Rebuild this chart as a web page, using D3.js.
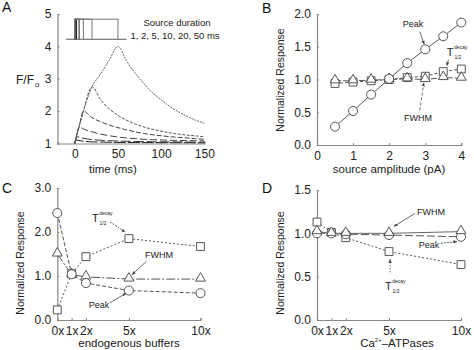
<!DOCTYPE html>
<html>
<head>
<meta charset="utf-8">
<script src="https://cdn.jsdelivr.net/npm/d3@7"></script>
<style>
  body { margin: 0; background: #fff; }
  svg { font-family: "Liberation Sans", Arial, Helvetica, sans-serif; }
</style>
</head>
<body>
<div id="chart"></div>
<script>
// ---- data ----
// panel A: fluorescence transients for different source durations
var timesA = [0, 1, 2, 5, 10, 20, 30, 40, 50, 60, 70, 80, 90, 100, 110, 120, 130, 140, 150];
var durationsA = [1, 2, 5, 10, 20, 50];
var ff1  = [1, 1.11, 1.10, 1.09, 1.07, 1.05, 1.045, 1.04, 1.035, 1.033, 1.03, 1.03, 1.028, 1.027, 1.026, 1.025, 1.024, 1.022, 1.02];
var ff2  = [1, 1.11, 1.22, 1.19, 1.16, 1.12, 1.10, 1.085, 1.075, 1.068, 1.062, 1.058, 1.055, 1.052, 1.05, 1.048, 1.046, 1.044, 1.042];
var ff5  = [1, 1.11, 1.22, 1.52, 1.45, 1.36, 1.29, 1.24, 1.20, 1.17, 1.15, 1.13, 1.12, 1.11, 1.10, 1.095, 1.09, 1.085, 1.08];
var ff10 = [1, 1.11, 1.22, 1.52, 2.0, 1.80, 1.67, 1.57, 1.49, 1.42, 1.36, 1.31, 1.27, 1.24, 1.21, 1.19, 1.17, 1.15, 1.13];
var ff20 = [1, 1.11, 1.22, 1.52, 2.0, 2.75, 2.35, 2.07, 1.87, 1.72, 1.60, 1.51, 1.44, 1.38, 1.33, 1.29, 1.26, 1.235, 1.21];
var ff50 = [1, 1.11, 1.22, 1.52, 2.0, 2.75, 3.15, 3.58, 4.0, 3.55, 3.17, 2.85, 2.57, 2.35, 2.15, 1.98, 1.84, 1.72, 1.63];
var xTicksA = [0, 50, 100, 150];
var yTicksA = [1, 2, 3, 4, 5];

// panel B: vs source amplitude
var ampB = [0.5, 1, 1.5, 2, 2.5, 3, 3.5, 4];
var peakB = [0.28, 0.52, 0.77, 1.01, 1.25, 1.46, 1.66, 1.87];
var decayB = [0.94, 0.96, 0.98, 1.0, 1.03, 1.05, 1.12, 1.16];
var fwhmB = [0.98, 0.98, 0.99, 1.0, 1.01, 1.0, 1.03, 1.02];
var xTicksB = [0, 1, 2, 3, 4];
var yTicksB = [0, 0.5, 1, 1.5, 2];

// panel C: vs endogenous buffers
var bufC = [0, 1, 2, 5, 10];
var peakC = [2.43, 1.04, 0.84, 0.67, 0.61];
var fwhmC = [1.50, 1.03, 0.98, 0.93, 0.93];
var decayC = [0.23, 1.05, 1.44, 1.85, 1.67];
var yTicksC = [0, 1, 2, 3];

// panel D: vs Ca-ATPases
var atpD = [0, 1, 2, 5, 10];
var peakD = [1.0, 1.0, 0.99, 0.98, 0.96];
var fwhmD = [1.02, 1.0, 1.0, 1.0, 1.02];
var decayD = [1.13, 1.01, 0.95, 0.79, 0.64];
var yTicksD = [0, 0.5, 1, 1.5];

var multTicks = [0, 1, 2, 5, 10];
var multLabels = ["0x", "1x", "2x", "5x", "10x"];

var width = 474, height = 350;
var axisColor = "#888";

var svg = d3.select("#chart").append("svg")
  .attr("width", width)
  .attr("height", height);

svg.append("rect").attr("width", width).attr("height", height).attr("fill", "#fff");

var defs = svg.append("defs");
defs.append("marker")
  .attr("id", "arrow")
  .attr("viewBox", "0 0 10 10")
  .attr("refX", 9).attr("refY", 5)
  .attr("markerWidth", 5).attr("markerHeight", 5)
  .attr("orient", "auto")
  .append("path")
  .attr("d", "M0,1 L10,5 L0,9 Z")
  .attr("fill", "#444");

// draws a left + bottom axis pair in the plain style of the figure
function drawAxes(g, x, y, xTicks, yTicks, xFmt, yFmt) {
  var ya = g.append("g")
    .attr("transform", "translate(" + x.range()[0] + ",0)")
    .call(d3.axisLeft(y).tickValues(yTicks).tickSize(-2).tickPadding(6).tickFormat(yFmt));
  var xa = g.append("g")
    .attr("transform", "translate(0," + y.range()[0] + ")")
    .call(d3.axisBottom(x).tickValues(xTicks).tickSize(-2).tickPadding(6).tickFormat(xFmt));
  [ya, xa].forEach(function(a) {
    a.select(".domain").attr("stroke", axisColor).attr("stroke-width", 1.2);
    a.selectAll(".tick line").attr("stroke", axisColor);
    a.selectAll(".tick text").attr("fill", "#222").style("font-size", "12px").style("font-family", "inherit");
  });
}

function seriesLine(g, x, y, xs, ys, dash, color) {
  var line = d3.line()
    .x(function(d, i) { return x(xs[i]); })
    .y(function(d) { return y(d); });
  g.append("path")
    .datum(ys)
    .attr("d", line)
    .attr("fill", "none")
    .attr("stroke", color || "#555")
    .attr("stroke-width", 1)
    .attr("stroke-dasharray", dash);
}

function markers(g, x, y, xs, ys, kind) {
  var sym = d3.symbol()
    .type(kind == "circle" ? d3.symbolCircle : kind == "square" ? d3.symbolSquare : d3.symbolTriangle)
    .size(kind == "circle" ? 64 : kind == "square" ? 62 : 42);
  g.selectAll(".m-" + kind)
    .data(ys)
    .enter()
    .append("path")
    .attr("class", "m-" + kind)
    .attr("d", sym)
    .attr("transform", function(d, i) {
      var dy = kind == "triangle" ? -0.8 : 0;
      return "translate(" + x(xs[i]) + "," + (y(d) + dy) + ")";
    })
    .attr("fill", "#fff")
    .attr("stroke", "#444")
    .attr("stroke-width", 0.9);
}

function arrow(g, x, y, a, dash) {
  g.append("line")
    .attr("x1", x(a[0])).attr("y1", y(a[1]))
    .attr("x2", x(a[2])).attr("y2", y(a[3]))
    .attr("stroke", "#444")
    .attr("stroke-width", 0.8)
    .attr("stroke-dasharray", dash || null)
    .attr("marker-end", "url(#arrow)");
}

function label(g, x, y, pos, txt, anchor) {
  g.append("text")
    .attr("x", x(pos[0])).attr("y", y(pos[1]))
    .attr("text-anchor", anchor || "middle")
    .style("font-size", "9px")
    .attr("fill", "#222")
    .text(txt);
}

// T with superscript "decay" and subscript "1/2"
function tDecay(g, x, y, pos) {
  var t = g.append("text")
    .attr("x", x(pos[0])).attr("y", y(pos[1]))
    .attr("fill", "#222")
    .style("font-size", "11px");
  t.append("tspan").text("T");
  t.append("tspan").attr("dx", 0.5).attr("dy", -7).style("font-size", "5px").text("decay");
  t.append("tspan").attr("dx", -13).attr("dy", 10).style("font-size", "5px").text("1/2");
}

function yTitle(g, cx, cy, txt) {
  g.append("text")
    .attr("transform", "translate(" + cx + "," + cy + ") rotate(-90)")
    .attr("text-anchor", "middle")
    .style("font-size", "10.5px")
    .attr("fill", "#222")
    .text(txt);
}

function xTitle(g, cx, by) {
  return g.append("text").attr("x", cx).attr("y", by)
    .attr("text-anchor", "middle").style("font-size", "11.5px").attr("fill", "#222");
}

function panelLetter(px, py, txt) {
  svg.append("text").attr("x", px).attr("y", py)
    .style("font-size", "14px").attr("fill", "#111").text(txt);
}

// ---------------- Panel A ----------------
var gA = svg.append("g");
var xA = d3.scaleLinear().domain([-20, 150]).range([57.5, 204.3]);
var yA = d3.scaleLinear().domain([1, 5]).range([143.5, 14]);
drawAxes(gA, xA, yA, xTicksA, yTicksA, d3.format("d"), d3.format("d"));

var curvesA = [ff1, ff2, ff5, ff10, ff20, ff50];
var dashA = ["12,2", "10,3", "7,3", "5,2", "3,1.5", "2,1"];
var colA = ["#222", "#333", "#444", "#444", "#555", "#666"];
curvesA.forEach(function(c, i) {
  var line = d3.line()
    .x(function(d, j) { return xA(timesA[j]); })
    .y(function(d) { return yA(d); })
    .curve(d3.curveMonotoneX);
  gA.append("path")
    .datum(c)
    .attr("d", line)
    .attr("fill", "none")
    .attr("stroke", colA[i])
    .attr("stroke-width", 1)
    .attr("stroke-dasharray", dashA[i]);
});

// inset: source pulses
var insetLow = 4.22, insetHigh = 4.84;
gA.append("line")
  .attr("x1", xA(-10)).attr("x2", xA(60))
  .attr("y1", yA(insetLow)).attr("y2", yA(insetLow))
  .attr("stroke", "#444").attr("stroke-width", 0.9);
gA.selectAll(".pulse")
  .data(durationsA)
  .enter()
  .append("path")
  .attr("class", "pulse")
  .attr("d", function(d) {
    return "M" + xA(0) + "," + yA(insetLow) + "V" + yA(insetHigh) + "H" + xA(d) + "V" + yA(insetLow);
  })
  .attr("fill", "none")
  .attr("stroke", function(d) { return d >= 10 ? "#777" : "#222"; })
  .attr("stroke-width", 1);

gA.append("text").attr("x", 177).attr("y", 26)
  .attr("text-anchor", "middle").style("font-size", "9.5px").attr("fill", "#222")
  .text("Source duration");
gA.append("text").attr("x", 175).attr("y", 38.5)
  .attr("text-anchor", "middle").style("font-size", "9.5px").attr("fill", "#222")
  .text("1, 2, 5, 10, 20, 50 ms");

var ffT = gA.append("text").attr("x", 16).attr("y", 84).style("font-size", "12px").attr("fill", "#222");
ffT.append("tspan").text("F/F");
ffT.append("tspan").attr("dx", 1).attr("dy", 3).style("font-size", "8px").text("o");

xTitle(gA, 113, 172.5).text("time (ms)");

// ---------------- Panel B ----------------
var gB = svg.append("g");
var xB = d3.scaleLinear().domain([0, 4]).range([317, 461.3]);
var yB = d3.scaleLinear().domain([0, 2]).range([145, 14]);
drawAxes(gB, xB, yB, xTicksB, yTicksB, d3.format("d"), d3.format(".1f"));

seriesLine(gB, xB, yB, ampB, peakB, null, "#555");
seriesLine(gB, xB, yB, ampB, decayB, "3,2", "#555");
seriesLine(gB, xB, yB, ampB, fwhmB, "6,2", "#555");
markers(gB, xB, yB, ampB, decayB, "square");
markers(gB, xB, yB, ampB, fwhmB, "triangle");
markers(gB, xB, yB, ampB, peakB, "circle");

label(gB, xB, yB, [2.66, 1.80], "Peak");
arrow(gB, xB, yB, [2.85, 1.73, 2.97, 1.54]);
tDecay(gB, xB, yB, [3.6, 1.36]);
arrow(gB, xB, yB, [3.64, 1.30, 3.6, 1.21], "2,1");
label(gB, xB, yB, [2.8, 0.37], "FWHM");
arrow(gB, xB, yB, [2.85, 0.53, 2.96, 0.95], "3,2");

yTitle(gB, 284, 80, "Normalized Response");
xTitle(gB, 389, 172.5).text("source amplitude (pA)");

// ---------------- Panel C ----------------
var gC = svg.append("g");
var xC = d3.scaleLinear().domain([0, 10]).range([57.3, 200.5]);
var yC = d3.scaleLinear().domain([0, 3]).range([320, 188]);
drawAxes(gC, xC, yC, multTicks, yTicksC, function(d, i) { return multLabels[i]; }, d3.format(".1f"));

seriesLine(gC, xC, yC, bufC, decayC, "2,2", "#555");
seriesLine(gC, xC, yC, bufC, fwhmC, "9,2,2,2", "#555");
seriesLine(gC, xC, yC, bufC, peakC, "4,2", "#555");
markers(gC, xC, yC, bufC, decayC, "square");
markers(gC, xC, yC, bufC, fwhmC, "triangle");
markers(gC, xC, yC, bufC, peakC, "circle");

tDecay(gC, xC, yC, [2.42, 2.23]);
arrow(gC, xC, yC, [3.68, 2.23, 4.73, 2.0], "2,1");
label(gC, xC, yC, [7.1, 1.41], "FWHM");
arrow(gC, xC, yC, [6.24, 1.34, 5.22, 1.03]);
label(gC, xC, yC, [2.91, 0.27], "Peak");
arrow(gC, xC, yC, [3.68, 0.39, 4.8, 0.61]);

yTitle(gC, 24, 263, "Normalized Response");
xTitle(gC, 129, 346.5).text("endogenous buffers");

// ---------------- Panel D ----------------
var gD = svg.append("g");
var xD = d3.scaleLinear().domain([0, 10]).range([317, 461]);
var yD = d3.scaleLinear().domain([0, 1.5]).range([320, 190]);
drawAxes(gD, xD, yD, multTicks, yTicksD, function(d, i) { return multLabels[i]; }, d3.format(".1f"));

seriesLine(gD, xD, yD, atpD, decayD, "2,2", "#555");
seriesLine(gD, xD, yD, atpD, fwhmD, null, "#666");
seriesLine(gD, xD, yD, atpD, peakD, "8,3", "#555");
markers(gD, xD, yD, atpD, decayD, "square");
markers(gD, xD, yD, atpD, peakD, "circle");
markers(gD, xD, yD, atpD, fwhmD, "triangle");

label(gD, xD, yD, [7.92, 1.21], "FWHM");
arrow(gD, xD, yD, [6.8, 1.23, 5.35, 1.08]);
label(gD, xD, yD, [7.78, 0.83], "Peak");
arrow(gD, xD, yD, [8.61, 0.885, 9.72, 0.905], "2,1");
tDecay(gD, xD, yD, [4.72, 0.35]);
arrow(gD, xD, yD, [5.08, 0.55, 5.08, 0.70], "1.5,1.5");

yTitle(gD, 284, 263, "Normalized Response");
var caT = xTitle(gD, 397, 346.5);
caT.append("tspan").text("Ca");
caT.append("tspan").attr("dy", -5).style("font-size", "6px").text("2+");
caT.append("tspan").attr("dy", 5).text("\u2013ATPases");

// panel letters
panelLetter(2, 12, "A");
panelLetter(262, 13, "B");
panelLetter(2, 193, "C");
panelLetter(262, 193, "D");
</script>
</body>
</html>
